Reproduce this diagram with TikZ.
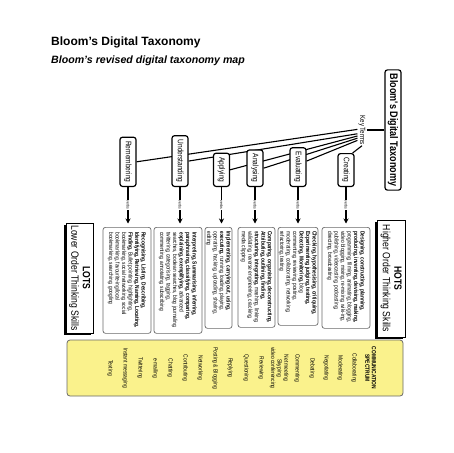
\documentclass[tikz,border=0pt]{standalone}
\usepackage{fontspec}
\setmainfont{Liberation Sans}
\newfontfamily\narrowfont[FakeStretch=0.82]{Liberation Sans}
\usepackage{tikz}
\usetikzlibrary{arrows.meta}
\usetikzlibrary{calc}
\usetikzlibrary{shadows}
\usetikzlibrary{backgrounds}

\definecolor{spectrumyellow}{RGB}{250,242,140}
\definecolor{verbgray}{RGB}{105,105,105}

\newcommand{\wordlist}[2]{\rotatebox{-90}{\parbox{#1}{\raggedright\narrowfont\fontsize{5.9}{6.5}\selectfont #2}}}

\tikzset{
  catbox/.style={draw=black, line width=1.2pt, rounded corners=2.5pt, fill=white, inner xsep=0pt, inner ysep=4pt, minimum width=16pt, anchor=south, font=\narrowfont\fontsize{8}{9}\selectfont},
  verbbox/.style={draw=verbgray, line width=0.7pt, rounded corners=2.5pt, fill=white, inner sep=0pt, anchor=north},
  skillbox/.style={draw=black, line width=0.8pt, fill=white, inner sep=0pt, drop shadow={shadow xshift=-1.6pt, shadow yshift=-1.6pt, opacity=1, fill=black}, font=\narrowfont\fontsize{10.5}{11.5}\selectfont},
  keyline/.style={line width=1.1pt},
  verbarrow/.style={line width=1.4pt, -{Stealth[length=5pt,width=5pt]}, shorten >=3.5pt},
  verblabel/.style={fill=white, inner sep=1pt, font=\narrowfont\fontsize{4}{4}\selectfont, pos=0.45},
  spitem/.style={font=\narrowfont\fontsize{6}{6.6}\selectfont, inner sep=0pt}
}

\begin{document}
\begin{tikzpicture}[x=1pt, y=-1pt]
\useasboundingbox (0,0) rectangle (453,453);

% 标题
\node[anchor=base west, inner sep=0pt, font=\bfseries\fontsize{12}{14}\selectfont] (title) at (51,45) {Bloom's Digital Taxonomy};
\node[anchor=base west, inner sep=0pt, font=\bfseries\itshape\fontsize{10.6}{12}\selectfont] (subtitle) at (51,63.5) {Bloom's revised digital taxonomy map};

% 六个层次
\node[catbox] (rem) at (128,187) {\rotatebox{-90}{Remembering}};
\node[catbox] (und) at (180,187) {\rotatebox{-90}{Understanding}};
\node[catbox] (app) at (221.5,187) {\rotatebox{-90}{Applying}};
\node[catbox] (ana) at (255,187) {\rotatebox{-90}{Analysing}};
\node[catbox] (eva) at (298,187) {\rotatebox{-90}{Evaluating}};
\node[catbox] (cre) at (346,187) {\rotatebox{-90}{Creating}};

\node[inner sep=1pt, font=\narrowfont\fontsize{7.5}{8}\selectfont] (keyterms) at (362,130) {\rotatebox{-90}{Key Terms}};
\node[draw=black, line width=1.2pt, rounded corners=2.5pt, fill=white, minimum width=16pt, inner xsep=0pt, inner ysep=4pt, font=\narrowfont\bfseries\fontsize{11}{12}\selectfont] (bloom) at (393,130) {\rotatebox{-90}{Bloom's Digital Taxonomy}};

% 关键词连线
\begin{scope}[on background layer]
\draw[keyline] (rem.east) -- ($(keyterms.north west)!0.48!(keyterms.south west)$);
\draw[keyline] (und.east) -- ($(keyterms.north west)!0.62!(keyterms.south west)$);
\draw[keyline] (app.east) -- ($(keyterms.north west)!0.69!(keyterms.south west)$);
\draw[keyline] (ana.east) -- ($(keyterms.north west)!0.76!(keyterms.south west)$);
\draw[keyline] ([yshift=6pt]eva.east) -- ($(keyterms.north west)!0.83!(keyterms.south west)$);
\end{scope}
\draw[keyline] (keyterms.east) -- (bloom.west);
\draw[keyline] (keyterms.south) -- ([xshift=-2pt]cre.north east);

% 动词框
\node[verbbox, minimum width=48pt, minimum height=106pt] (remv) at (127,227) {\wordlist{96pt}{\textbf{Recognising, Listing, Describing, Identifying, Retrieving, Naming, Locating, Finding,} Bullet pointing, highlighting, bookmarking, social networking, social bookmarking, favourite-ing/local bookmarking, searching, googling}};
\node[verbbox, minimum width=48pt, minimum height=106pt] (undv) at (178,227) {\wordlist{96pt}{\textbf{Interpreting, Summarising, inferring, paraphrasing, classifying, comparing, explaining, exemplifying,} advanced searches, boolean searches, blog journaling, twittering, categorising, tagging, commenting, annotating, subscribing}};
\node[verbbox, minimum width=27pt, minimum height=101pt] (appv) at (218.5,227) {\wordlist{93pt}{\textbf{Implementing, carrying out, using, executing,} running, loading, playing, operating, hacking, uploading, sharing, editing}};
\node[verbbox, minimum width=37pt, minimum height=100pt] (anav) at (256.5,227) {\wordlist{92pt}{\textbf{Comparing, organising, deconstructing, Attributing, outlining, finding, structuring, integrating,} mashing, linking, validating, reverse engineering, cracking, media clipping}};
\node[verbbox, minimum width=40pt, minimum height=98pt] (evav) at (298,227) {\wordlist{90pt}{\textbf{Checking, hypothesising, critiquing, Experimenting, judging, testing, Detecting, Monitoring,} blog commenting, reviewing, posting, moderating, collaborating, networking, refactoring, testing}};
\node[verbbox, minimum width=48pt, minimum height=101pt] (crev) at (346,227) {\wordlist{93pt}{\textbf{Designing, constructing, planning, producing, inventing, devising, making,} programming, filming, animating, blogging, video blogging, mixing, re-mixing, wiki-ing, publishing, videocasting, podcasting, directing, broadcasting}};

\draw[verbarrow] (rem.south) -- node[verblabel]{\rotatebox{-90}{verbs}} (rem.south |- remv.north);
\draw[verbarrow] (und.south) -- node[verblabel]{\rotatebox{-90}{verbs}} (und.south |- undv.north);
\draw[verbarrow] (app.south) -- node[verblabel]{\rotatebox{-90}{verbs}} (app.south |- appv.north);
\draw[verbarrow] (ana.south) -- node[verblabel]{\rotatebox{-90}{verbs}} (ana.south |- anav.north);
\draw[verbarrow] (eva.south) -- node[verblabel]{\rotatebox{-90}{verbs}} (eva.south |- evav.north);
\draw[verbarrow] (cre.south) -- node[verblabel]{\rotatebox{-90}{verbs}} (cre.south |- crev.north);

% LOTS / HOTS
\node[skillbox, minimum width=27pt, minimum height=110pt] (lots) at (79.5,278) {\rotatebox{-90}{\begin{tabular}{@{}c@{}}\textbf{LOTS}\\Lower Order Thinking Skills\end{tabular}}};
\node[skillbox, minimum width=28pt, minimum height=117pt] (hots) at (391,278.5) {\rotatebox{-90}{\begin{tabular}{@{}c@{}}\textbf{HOTS}\\Higher Order Thinking Skills\end{tabular}}};

% 交流谱
\node[draw=verbgray, line width=0.8pt, rounded corners=3pt, fill=spectrumyellow, minimum width=336pt, minimum height=56pt, inner sep=0pt] (spectrum) at (235,368) {};
\foreach \x/\txt [count=\i] in {370/{\textbf{COMMUNICATION}\\\textbf{SPECTRUM}}, 354/Collaborating, 340/Moderating, 326/Negotiating, 312/Debating, 297/Commenting, 279/{Net meeting\\Skyping\\video conferencing}, 261/Reviewing, 246/Questioning, 230/Replying, 215/{Posting \& Blogging}, 200/Networking, 185/Contributing, 170/Chatting, 155/e-mailing, 140/Twittering/Microblogging, 125/{Instant messaging}, 110/Texting}
  \node[spitem] (sp\i) at (\x,368) {\rotatebox{-90}{\begin{tabular}{@{}c@{}}\txt\end{tabular}}};

\end{tikzpicture}
\end{document}
